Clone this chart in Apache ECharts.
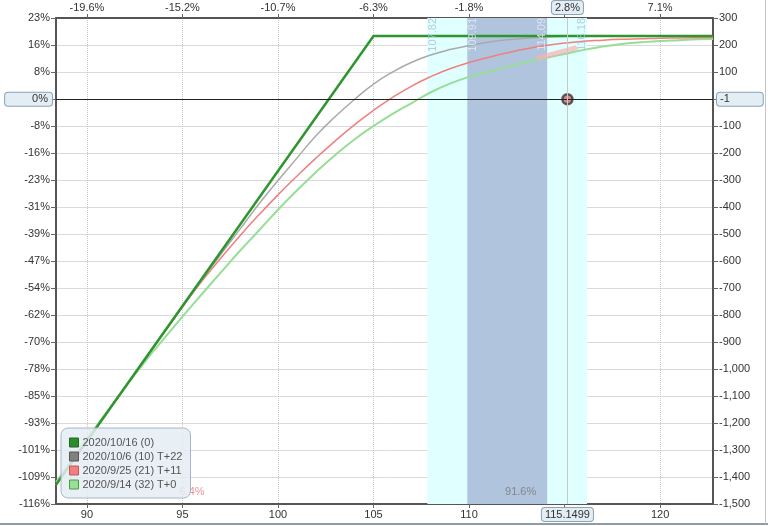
<!DOCTYPE html>
<html>
<head>
<meta charset="utf-8">
<script src="https://cdn.jsdelivr.net/npm/echarts@6/dist/echarts.min.js"></script>
<style>
html, body { margin: 0; padding: 0; background: #fff; }
#chart { width: 768px; height: 526px; }
.edgeB { position: absolute; left: 0; top: 523px; width: 768px; height: 2px; background: #8f9ba6; }
.edgeR { position: absolute; left: 765px; top: 0; width: 1px; height: 524px; background: #c4c4c4; }
</style>
</head>
<body>
<div id="chart"></div>
<div class="edgeB"></div><div class="edgeR"></div>
<script>
// underlying prices the curves were read at
var prices = [88.38, 90, 91, 92, 93, 94, 95, 96, 97, 98, 99, 100, 101, 102, 103, 104, 105, 106,
              107, 108, 109, 110, 111, 112, 113, 114, 115, 116, 117, 118, 119, 120, 121, 122, 122.77];
// P&L of each date line
var valT22 = [-1429, -1267, -1167, -1067, -968, -869, -770, -672, -576, -483, -389, -302, -218, -135, -65, -2, 55, 100,
              136, 163, 183, 198, 210, 219, 225, 230, 232, 233, 233, 233, 233, 233, 233, 233, 233];
var valT11 = [-1429, -1267, -1167, -1067, -967, -868, -771, -676, -590, -507, -429, -355, -285, -218, -155, -96, -42, 6,
              48, 83, 112, 135, 154, 171, 186, 198, 207, 214, 218, 221, 223, 225, 226, 227, 228];
var valT0 = [-1420, -1260, -1163, -1068, -976, -890, -806, -724, -643, -563, -487, -410, -338, -270, -207, -150, -100, -55,
             -15, 25, 57, 82, 101, 119, 136, 152, 167, 182, 194, 204, 210, 215, 218, 221, 222];
// expiration line
var expPrices = [88.38, 105, 122.77];
var expValues = [-1429, 233, 233];

var seriesNames = ['2020/10/16 (0)', '2020/10/6 (10) T+22', '2020/9/25 (21) T+11', '2020/9/14 (32) T+0'];

var bandOuter = [107.82, 116.18];
var bandInner = [109.91, 114.09];
var hiliteX = [113.54, 115.64];
var hiliteY = [150, 190];

var curPrice = 115.1499;
var curPnl = -1;
var basePrice = 112;
var capital = 1290;

var probText = ['6.4%', '91.6%'];
var probX = [95.5, 112.7];
var probY = [-1456, -1456];

var FONT = 'Liberation Sans, Arial, sans-serif';

function zip(xs, ys) {
    var out = [];
    for (var i = 0; i < xs.length; i++) out.push([xs[i], ys[i]]);
    return out;
}

function pct(v) {
    return Math.round(v / capital * 100) + '%';
}

var boxLabel = {
    show: true,
    backgroundColor: '#e2edf4',
    borderColor: '#8da2b6',
    borderWidth: 1,
    color: '#333',
    fontSize: 11,
    fontFamily: FONT,
    padding: [1, 3, 1, 3],
    margin: 4
};

function xAxisDef(pos, fmt, ptrFmt, showLine) {
    return {
        type: 'value', position: pos, min: 88.38, max: 122.77, splitNumber: 7,
        axisLine: { onZero: false, lineStyle: { color: '#555', width: 2 } },
        axisTick: { show: true, length: 4, lineStyle: { color: '#666' } },
        axisLabel: { color: '#333', fontSize: 11, fontFamily: FONT, margin: 5,
                     showMinLabel: false, showMaxLabel: false, formatter: fmt },
        splitLine: { show: pos == 'bottom', lineStyle: { color: '#c8c8c8', type: 'dotted' } },
        axisPointer: {
            show: true, status: 'show', value: curPrice, triggerTooltip: false,
            lineStyle: { color: showLine ? '#c8c8c8' : 'rgba(0,0,0,0)', width: 1, type: 'solid' },
            label: Object.assign({}, boxLabel, { formatter: ptrFmt })
        }
    };
}

function yAxisDef(pos, fmt, ptrFmt, pad) {
    return {
        type: 'value', position: pos, min: -1500, max: 300, interval: 100,
        axisLine: { onZero: false, lineStyle: { color: '#555', width: 2 } },
        axisTick: { show: true, length: 5, lineStyle: { color: '#666' } },
        axisLabel: { color: '#333', fontSize: 11, fontFamily: FONT, margin: 6, formatter: fmt },
        splitLine: { show: pos == 'left', lineStyle: { color: '#dadada', type: 'solid' } },
        axisPointer: {
            show: true, status: 'show', value: curPnl, triggerTooltip: false,
            lineStyle: { color: '#222', width: 1, type: 'solid' },
            label: Object.assign({}, boxLabel, { formatter: ptrFmt, padding: pad })
        }
    };
}

var bandLabels = [
    { value: [bandOuter[0], 300], label: { verticalAlign: 'top', color: '#a9c0d4' } },
    { value: [bandInner[0], 300], label: { verticalAlign: 'top', color: '#e6eef6' } },
    { value: [bandInner[1], 300], label: { verticalAlign: 'bottom', color: '#e6eef6' } },
    { value: [bandOuter[1], 300], label: { verticalAlign: 'bottom', color: '#a9c0d4' } }
];

var option = {
    animation: false,
    grid: { left: 56, right: 55, top: 18, bottom: 22 },
    xAxis: [
        xAxisDef('bottom', function (v) { return v === 115 ? '' : String(v); },
                 function () { return String(curPrice); }, true),
        xAxisDef('top', function (v) { return v === 115 ? '' : ((v / basePrice - 1) * 100).toFixed(1) + '%'; },
                 function () { return ((curPrice / basePrice - 1) * 100).toFixed(1) + '%'; }, false)
    ],
    yAxis: [
        yAxisDef('left', function (v) { return v === 0 ? '' : pct(v); },
                 function () { return pct(curPnl); }, [1, 4, 1, 27]),
        yAxisDef('right', function (v) { return v === 0 ? '' : v.toLocaleString('en-US'); },
                 function () { return String(curPnl); }, [1, 33, 1, 3])
    ],
    legend: {
        orient: 'vertical', left: 61, top: 428,
        data: seriesNames.map(function (n, i) {
            return { name: n, icon: 'rect', itemStyle: { borderColor: ['#1d6b1d', '#555', '#c05a5a', '#4a9a4a'][i], borderWidth: 1 } };
        }),
        itemWidth: 9, itemHeight: 9, itemGap: 3,
        backgroundColor: 'rgba(228,236,243,0.85)',
        borderColor: '#a6b6c6', borderWidth: 1, borderRadius: 7,
        padding: [9, 8, 8, 8],
        textStyle: { color: '#555', fontSize: 11, fontFamily: FONT, padding: [0, 0, 0, -1] }
    },
    series: [
        {
            name: 'bands', type: 'line', data: [], z: 1, silent: true,
            markArea: {
                silent: true,
                data: [
                    [{ xAxis: bandOuter[0], itemStyle: { color: '#e0ffff' } }, { xAxis: bandOuter[1] }],
                    [{ xAxis: bandInner[0], itemStyle: { color: '#b0c4de' } }, { xAxis: bandInner[1] }]
                ]
            }
        },
        {
            name: 'bandLabels', type: 'scatter', symbolSize: 0, z: 3, silent: true,
            data: bandLabels,
            label: {
                show: true, position: 'inside', rotate: 90, align: 'right', offset: [0, 0],
                fontSize: 11, fontFamily: FONT,
                formatter: function (p) { return p.value[0].toFixed(2); }
            }
        },
        {
            name: seriesNames[3], type: 'line', data: zip(prices, valT0), showSymbol: false, smooth: true, z: 2,
            itemStyle: { color: '#98e098' }, lineStyle: { color: '#96de96', width: 2 }
        },
        {
            name: 'hilite', type: 'line', data: zip(hiliteX, hiliteY), showSymbol: false, z: 2,
            lineStyle: { color: 'rgba(248,178,178,0.7)', width: 5 }
        },
        {
            name: seriesNames[2], type: 'line', data: zip(prices, valT11), showSymbol: false, smooth: true, z: 2,
            itemStyle: { color: '#f08080' }, lineStyle: { color: '#f07f7f', width: 1.5 }
        },
        {
            name: seriesNames[1], type: 'line', data: zip(prices, valT22), showSymbol: false, smooth: true, z: 2,
            itemStyle: { color: '#808080' }, lineStyle: { color: '#aaaaaa', width: 1.5 }
        },
        {
            name: seriesNames[0], type: 'line', data: zip(expPrices, expValues), showSymbol: false, z: 2,
            itemStyle: { color: '#2e8b2e' }, lineStyle: { color: '#2f962f', width: 2.5 }
        },
        {
            name: 'prob', type: 'scatter', symbolSize: 0, z: 3, silent: true,
            data: probText.map(function (t, i) {
                return { name: t, value: [probX[i], probY[i]], label: { color: i == 0 ? '#e07c7c' : '#777' } };
            }),
            label: { show: true, position: 'inside', fontSize: 11, fontFamily: FONT, formatter: '{b}' }
        },
        {
            name: 'cursor', type: 'scatter', z: 10, silent: true,
            data: [[curPrice, curPnl]], symbolSize: 10,
            itemStyle: { color: '#cf6a6a', borderColor: '#383838', borderWidth: 2.5 }
        }
    ]
};

echarts.init(document.getElementById('chart')).setOption(option);
</script>
</body>
</html>
